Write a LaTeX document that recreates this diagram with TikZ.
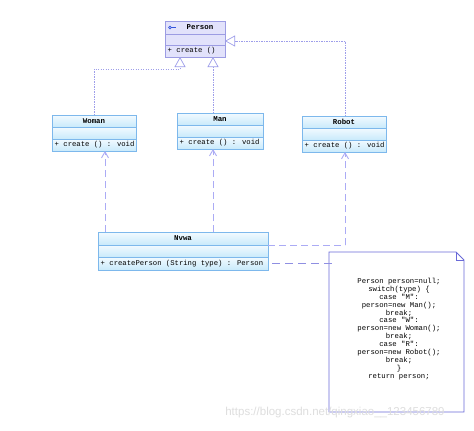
\documentclass[tikz,border=0pt]{standalone}
\usepackage{fontspec}
\newfontfamily\monofont[WordSpace={1,0,0}]{Liberation Mono}
\newfontfamily\wmfont{Liberation Sans}
\usetikzlibrary{arrows.meta}
\definecolor{clsline}{HTML}{7DB8EC}
\definecolor{clsfillA}{HTML}{F2FAFF}
\definecolor{clsfillB}{HTML}{C9EAFB}
\definecolor{perline}{HTML}{9C9CE3}
\definecolor{perfill}{HTML}{E2E2FB}
\definecolor{genline}{HTML}{9E9EEA}
\definecolor{depline}{HTML}{ABABF5}
\definecolor{noteline}{HTML}{6A6AD8}
\definecolor{iconblue}{HTML}{3355DD}
\tikzset{
  cpart/.style={draw=clsline, top color=clsfillA, bottom color=clsfillB, inner sep=0pt, outer sep=0pt,
    anchor=north west, minimum height=12pt},
  chead/.style={cpart, font=\monofont\bfseries\fontsize{7.4}{8}\selectfont},
  ctext/.style={anchor=west, inner sep=0pt, font=\monofont\fontsize{7.25}{8}\selectfont},
  ppart/.style={draw=perline, fill=perfill, inner sep=0pt, outer sep=0pt, anchor=north west,
    minimum width=60pt},
  gen/.style={draw=genline, line width=0.7pt, dash pattern=on 1.2pt off 1.3pt,
    -{Triangle[open, length=10pt, width=11pt, fill=white]}},
  genline/.style={draw=genline, line width=0.7pt, dash pattern=on 1.2pt off 1.3pt},
  dep/.style={draw=depline, line width=0.9pt, dash pattern=on 7pt off 4pt,
    -{Straight Barb[length=6pt, width=7pt]}},
  depplain/.style={draw=depline, line width=0.9pt, dash pattern=on 7pt off 4pt},
  notedep/.style={draw=noteline!75, line width=0.9pt, dash pattern=on 8pt off 5pt},
  notebox/.style={draw=noteline, line width=0.9pt, fill=white},
}
\begin{document}
\begin{tikzpicture}[x=1pt,y=-1pt]
\fill[white] (0,0) rectangle (474,431);
\useasboundingbox (0,0) rectangle (474,431);

% Person
\node[ppart, minimum height=13pt] (personH) at (165,21) {};
\node[font=\monofont\bfseries\fontsize{7.4}{8}\selectfont, inner sep=0pt] (personT) at ([xshift=5pt]personH.center) {Person};
\node[ppart, minimum height=11pt] (personE) at (165,34) {};
\node[ppart, minimum height=12pt] (personM) at (165,45) {};
\node[ctext] (personMT) at ([xshift=2.5pt]personM.west) {+ create ()};
\draw[iconblue, line width=0.7pt] ([xshift=5pt]personH.west) circle (1.4pt);
\draw[iconblue, line width=0.7pt] ([xshift=6.4pt]personH.west) -- ([xshift=11pt]personH.west);

% Woman
\node[chead, minimum width=84pt] (womanH) at (52,115) {Woman};
\node[cpart, minimum width=84pt] (womanE) at (52,127) {};
\node[cpart, minimum width=84pt] (womanM) at (52,139) {};
\node[ctext] (womanMT) at ([xshift=2.5pt]womanM.west) {+ create () : void};

% Man
\node[chead, minimum width=86pt] (manH) at (177,113) {Man};
\node[cpart, minimum width=86pt] (manE) at (177,125) {};
\node[cpart, minimum width=86pt] (manM) at (177,137) {};
\node[ctext] (manMT) at ([xshift=2.5pt]manM.west) {+ create () : void};

% Robot
\node[chead, minimum width=84pt] (robotH) at (302,116) {Robot};
\node[cpart, minimum width=84pt] (robotE) at (302,128) {};
\node[cpart, minimum width=84pt] (robotM) at (302,140) {};
\node[ctext] (robotMT) at ([xshift=2.5pt]robotM.west) {+ create () : void};

% Nvwa
\node[chead, minimum width=170pt, minimum height=13pt] (nvwaH) at (98,232) {Nvwa};
\node[cpart, minimum width=170pt] (nvwaE) at (98,245) {};
\node[cpart, minimum width=170pt, minimum height=13pt] (nvwaM) at (98,257) {};
\node[ctext] (nvwaMT) at ([xshift=2.5pt]nvwaM.west) {+ createPerson (String type) : Person};

% Note
\node[anchor=north west, minimum width=135pt, minimum height=160pt, inner sep=0pt, outer sep=0pt] (note) at (329,252) {};
\draw[notebox] (note.north west) -- ([xshift=-8pt]note.north east) -- ([yshift=-8pt]note.north east)
  -- (note.south east) -- (note.south west) -- cycle;
\draw[draw=noteline, line width=0.6pt] ([xshift=-8pt]note.north east) -- ([xshift=-8pt,yshift=-8pt]note.north east) -- ([yshift=-8pt]note.north east);
\node[font=\monofont\fontsize{7.3}{7.9}\selectfont, align=center, inner sep=0pt] (notetext) at (399,329)
  {Person person=null;\\switch(type) \{\\case "M":\\person=new Man();\\break;\\case "W":\\person=new Woman();\\break;\\case "R":\\person=new Robot();\\break;\\\}\\return person;};

% Generalizations
\coordinate (wcorner) at (180,69);
\draw[genline] (womanH.north) |- (wcorner);
\draw[gen] (wcorner) -- (wcorner |- personM.south);
\coordinate (mx) at (213,0);
\draw[gen] (manH.north -| mx) -- (personM.south -| mx);
\coordinate (rcorner) at (345,41);
\draw[genline] (robotH.north -| rcorner) -- (rcorner);
\draw[gen] (rcorner) -- (rcorner -| personE.east);

% Dependencies
\coordinate (wx) at (105,0);
\draw[dep] (nvwaH.north -| wx) -- (womanM.south -| wx);
\draw[dep] (nvwaH.north -| mx) -- (manM.south -| mx);
\coordinate (rdep) at (345,245);
\draw[depplain] (nvwaE.north east) -- (rdep);
\draw[dep] (rdep) -- (robotM.south -| rdep);
\draw[notedep] ([xshift=4pt]nvwaM.east) -- ([xshift=3pt]nvwaM.east -| note.west);

% watermark
\node[font=\wmfont\fontsize{11.5}{12}\selectfont, text=black!13, inner sep=0pt] (wm) at (335,413) {https://blog.csdn.net/qingxiao\_\_123456789};
\end{tikzpicture}
\end{document}
